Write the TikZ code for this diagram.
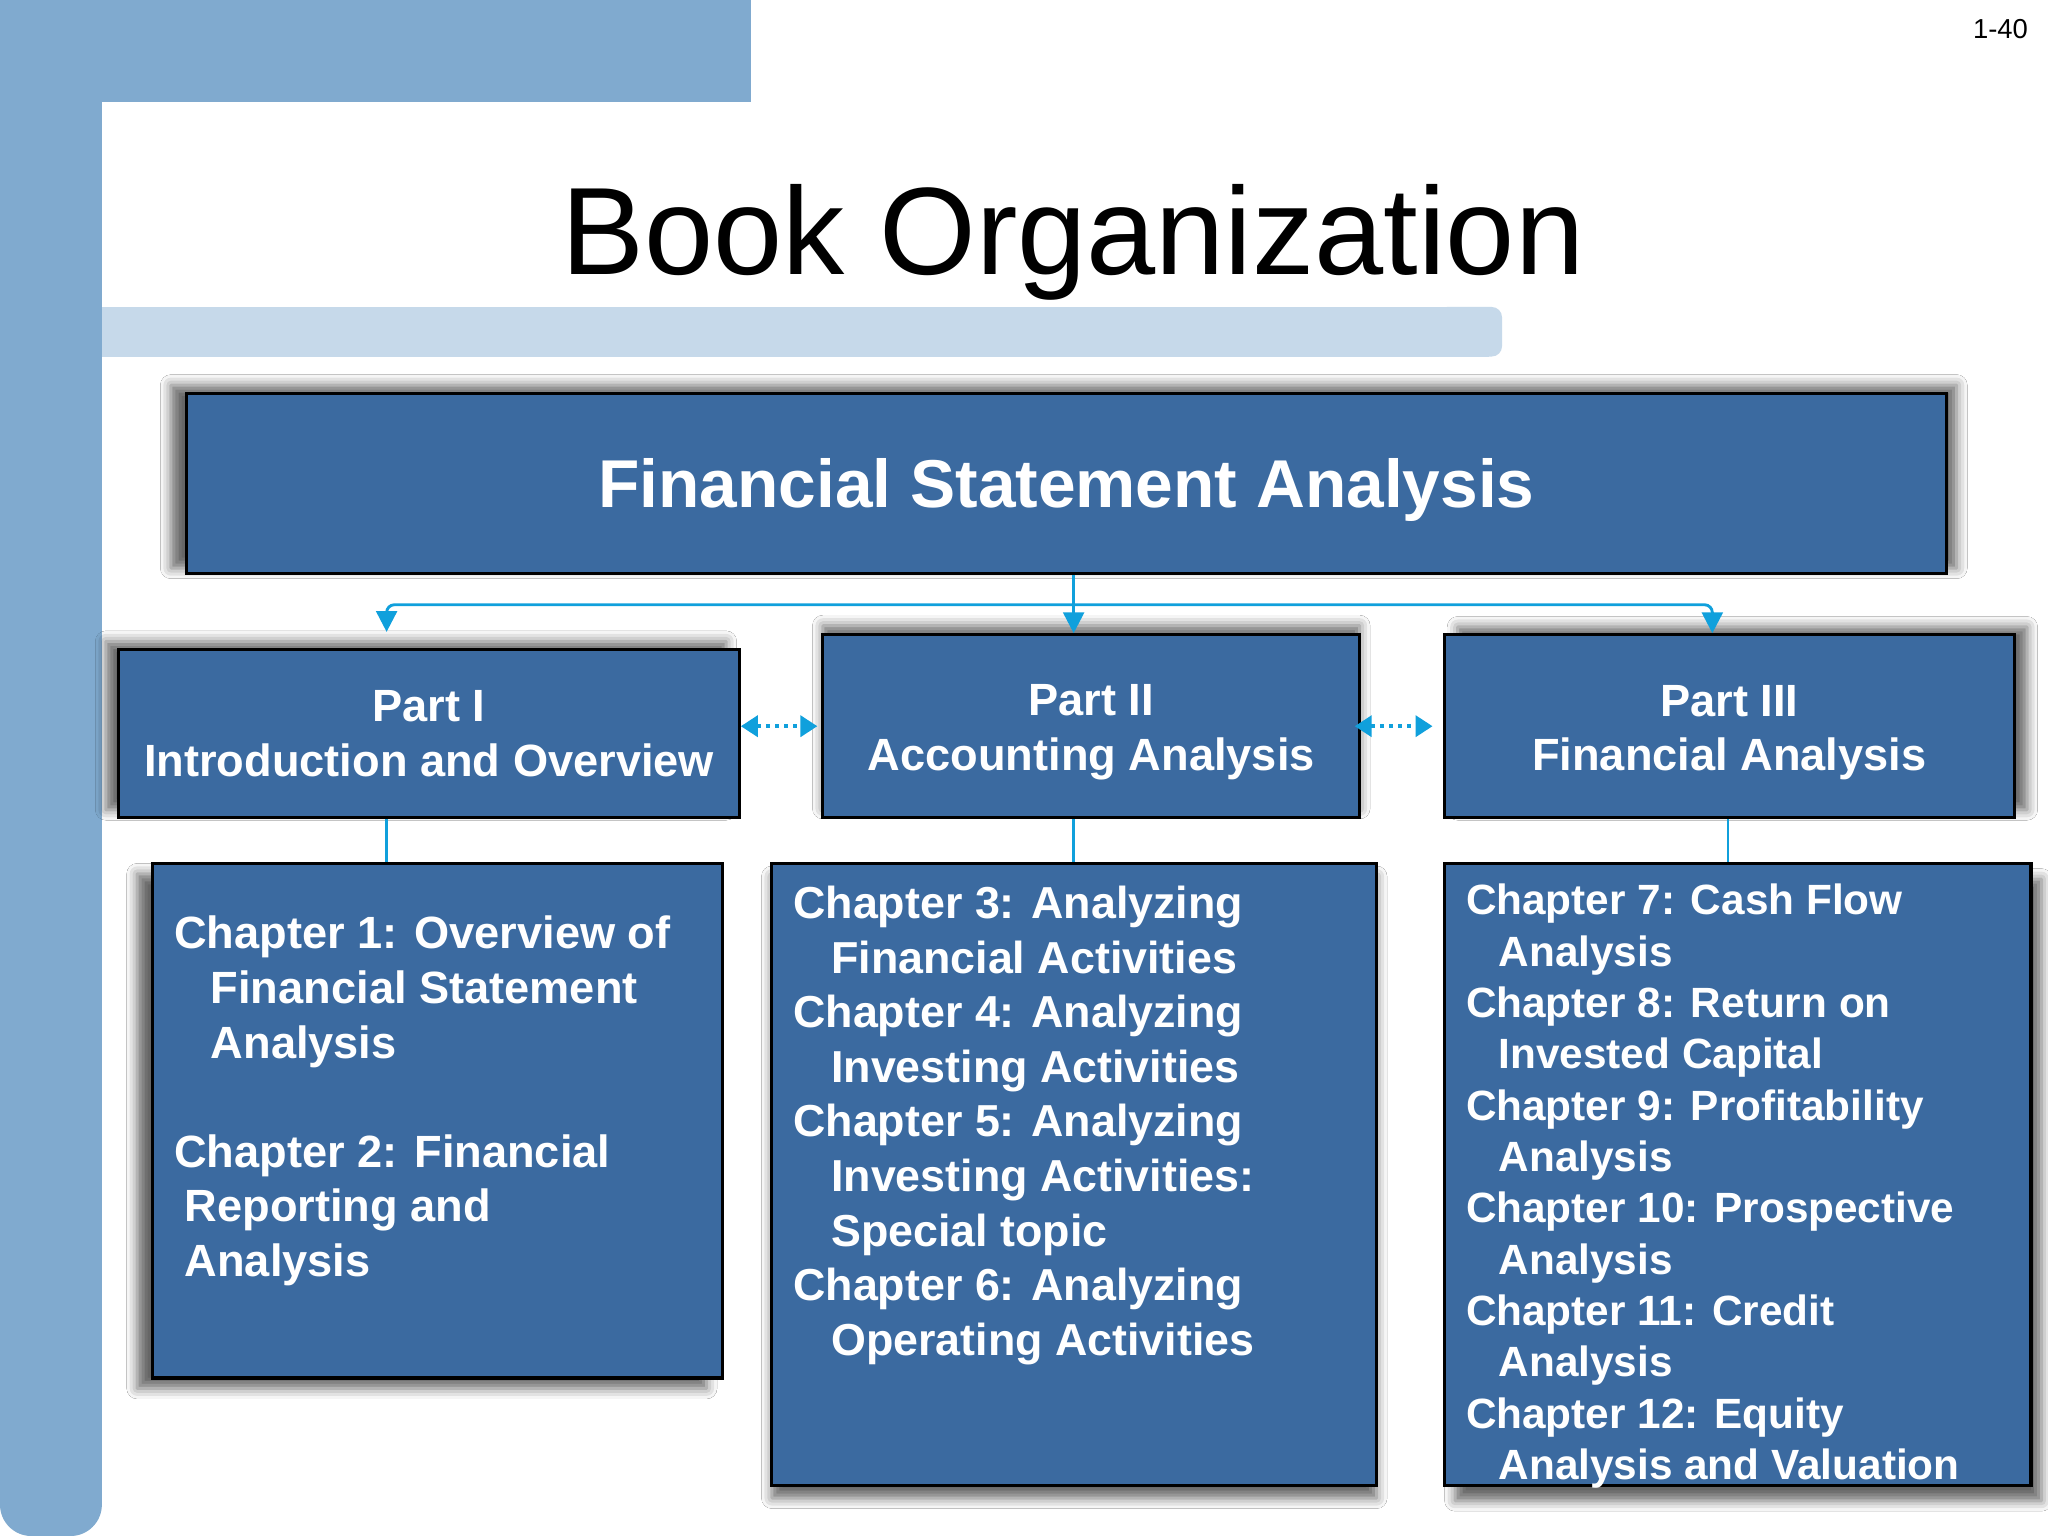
\documentclass[tikz,border=0pt]{standalone}
\usepackage{fontspec}
\setmainfont{Liberation Sans}
\usetikzlibrary{arrows.meta,calc,shadows.blur}
\definecolor{barblue}{RGB}{128,170,207}
\definecolor{bandblue}{RGB}{198,217,234}
\definecolor{boxblue}{RGB}{59,106,160}
\definecolor{linkcyan}{RGB}{16,160,220}
\begin{document}
\begin{tikzpicture}[x=0.5pt,y=-0.5pt,
  bluebox/.style={draw=black, line width=1.2pt, fill=boxblue, text=white,
    align=center, inner sep=0pt},
  shad/.style 2 args={blur shadow={shadow xshift=#1, shadow yshift=#2,
    shadow blur radius=4pt, shadow opacity=60}},
  bigshad/.style={blur shadow={shadow xshift=-1pt, shadow yshift=2.5pt, shadow scale=1.015,
    shadow blur radius=4pt, shadow opacity=60}},
  chtext/.style={anchor=north west, inner sep=0pt, text=white, align=left},
  link/.style={draw=linkcyan, line width=1.1pt},
  thinlink/.style={draw=linkcyan, line width=0.9pt},
  tip/.style={-{Triangle[width=8pt,length=8pt]}},
  dlink/.style={draw=linkcyan, line width=1.5pt, dotted,
    {Triangle[width=8pt,length=6.5pt]}-{Triangle[width=8pt,length=6.5pt]}}]
\useasboundingbox (0,0) rectangle (1568,1176);
\fill[white] (0,0) rectangle (1568,1176);
% decorations
\fill[barblue] (0,0) rectangle (575,78);
\fill[barblue] (0,0) rectangle (78,1100);
\fill[barblue, rounded corners=12pt] (0,1050) rectangle (78,1176);
\fill[bandblue] (78,235) rectangle (1140,273);
\fill[bandblue, rounded corners=4pt] (1100,235) rectangle (1150,273);
% title and page number
\node[font=\fontsize{47.6}{50}\selectfont, anchor=base, inner sep=0pt] (title) at (821.5,210) {Book Organization};
\node[font=\fontsize{10.5}{12}\selectfont, anchor=base east, inner sep=0pt] (pg) at (1553,29.5) {1-40};
% main box
\node[bluebox, bigshad,
  minimum width=673.5pt, minimum height=69pt, text depth=0pt,
  font=\bfseries\fontsize{25.9}{30}\selectfont] (fsa) at (816.5,370) {Financial Statement Analysis};
% parts
\node[bluebox, shad={-5pt}{3pt}, minimum width=237.5pt, minimum height=64.5pt,
  font=\bfseries\fontsize{17.3}{21}\selectfont] (p1) at (328.5,561.5) {Part I\\Introduction and Overview};
\node[bluebox, shad={0pt}{3.5pt}, minimum width=205.5pt, minimum height=70pt,
  font=\bfseries\fontsize{17.3}{21}\selectfont] (p2) at (835.5,556) {\rule{0pt}{0.97em}Part II\\Accounting Analysis};
\node[bluebox, shad={5pt}{3pt}, minimum width=218pt, minimum height=70pt,
  font=\bfseries\fontsize{17.3}{21}\selectfont] (p3) at (1324,556) {\rule{0pt}{0.97em}Part III\\Financial Analysis};
% chapter boxes
\node[bluebox, shad={-6pt}{-4pt}, minimum width=218pt, minimum height=197pt] (ca) at (335,858) {};
\node[bluebox, shad={0pt}{-5pt}, minimum width=231.5pt, minimum height=238pt] (cb) at (822.5,899) {};
\node[bluebox, shad={4pt}{-6pt}, minimum width=224.5pt, minimum height=238pt] (cc) at (1330.5,899) {};
\node[chtext, font=\bfseries\fontsize{17.3}{20.9}\selectfont] (ta) at (133,701)
  {Chapter 1: Overview of\\\hspace*{14pt}Financial Statement\\\hspace*{14pt}Analysis\\[20.9pt]Chapter 2: Financial\\\hspace*{4pt}Reporting and\\\hspace*{4pt}Analysis};
\node[chtext, font=\bfseries\fontsize{17.15}{20.9}\selectfont] (tb) at (607,678)
  {Chapter 3: Analyzing\\\hspace*{14.5pt}Financial Activities\\Chapter 4: Analyzing\\\hspace*{14.5pt}Investing Activities\\Chapter 5: Analyzing\\\hspace*{14.5pt}Investing Activities:\\\hspace*{14.5pt}Special topic\\Chapter 6: Analyzing\\\hspace*{14.5pt}Operating Activities};
\node[chtext, font=\bfseries\fontsize{16.2}{19.65}\selectfont] (tc) at (1122,676.5)
  {Chapter 7: Cash Flow\\\hspace*{12.5pt}Analysis\\Chapter 8: Return on\\\hspace*{12.5pt}Invested Capital\\Chapter 9: Profitability\\\hspace*{12.5pt}Analysis\\Chapter 10: Prospective\\\hspace*{12.5pt}Analysis\\Chapter 11: Credit\\\hspace*{12.5pt}Analysis\\Chapter 12: Equity\\\hspace*{12.5pt}Analysis and Valuation};
% connectors
\coordinate (j) at (822,463);
\coordinate (a1) at (296,463);
\coordinate (a3) at (1311,463);
\coordinate (c3) at (1323,640);
\draw[link] (fsa.south -| j) -- (j);
\draw[link, tip, rounded corners=3pt] (j) -| ($(p1.north -| a1)+(0,-12)$);
\draw[link, tip] (j) -- (p2.north -| j);
\draw[link, tip, rounded corners=3pt] (j) -| (p3.north -| a3);
\draw[thinlink] (p1.south -| a1) -- (ca.north -| a1);
\draw[thinlink] (p2.south -| j) -- (cb.north -| j);
\draw[thinlink] (p3.south -| c3) -- (cc.north -| c3);
\draw[dlink, shorten >=1.5pt] (p1.east |- p2.west) -- (p2.west);
\draw[dlink, shorten <=-2.5pt, shorten >=4pt] (p2.east) -- (p3.west);
\end{tikzpicture}
\end{document}
